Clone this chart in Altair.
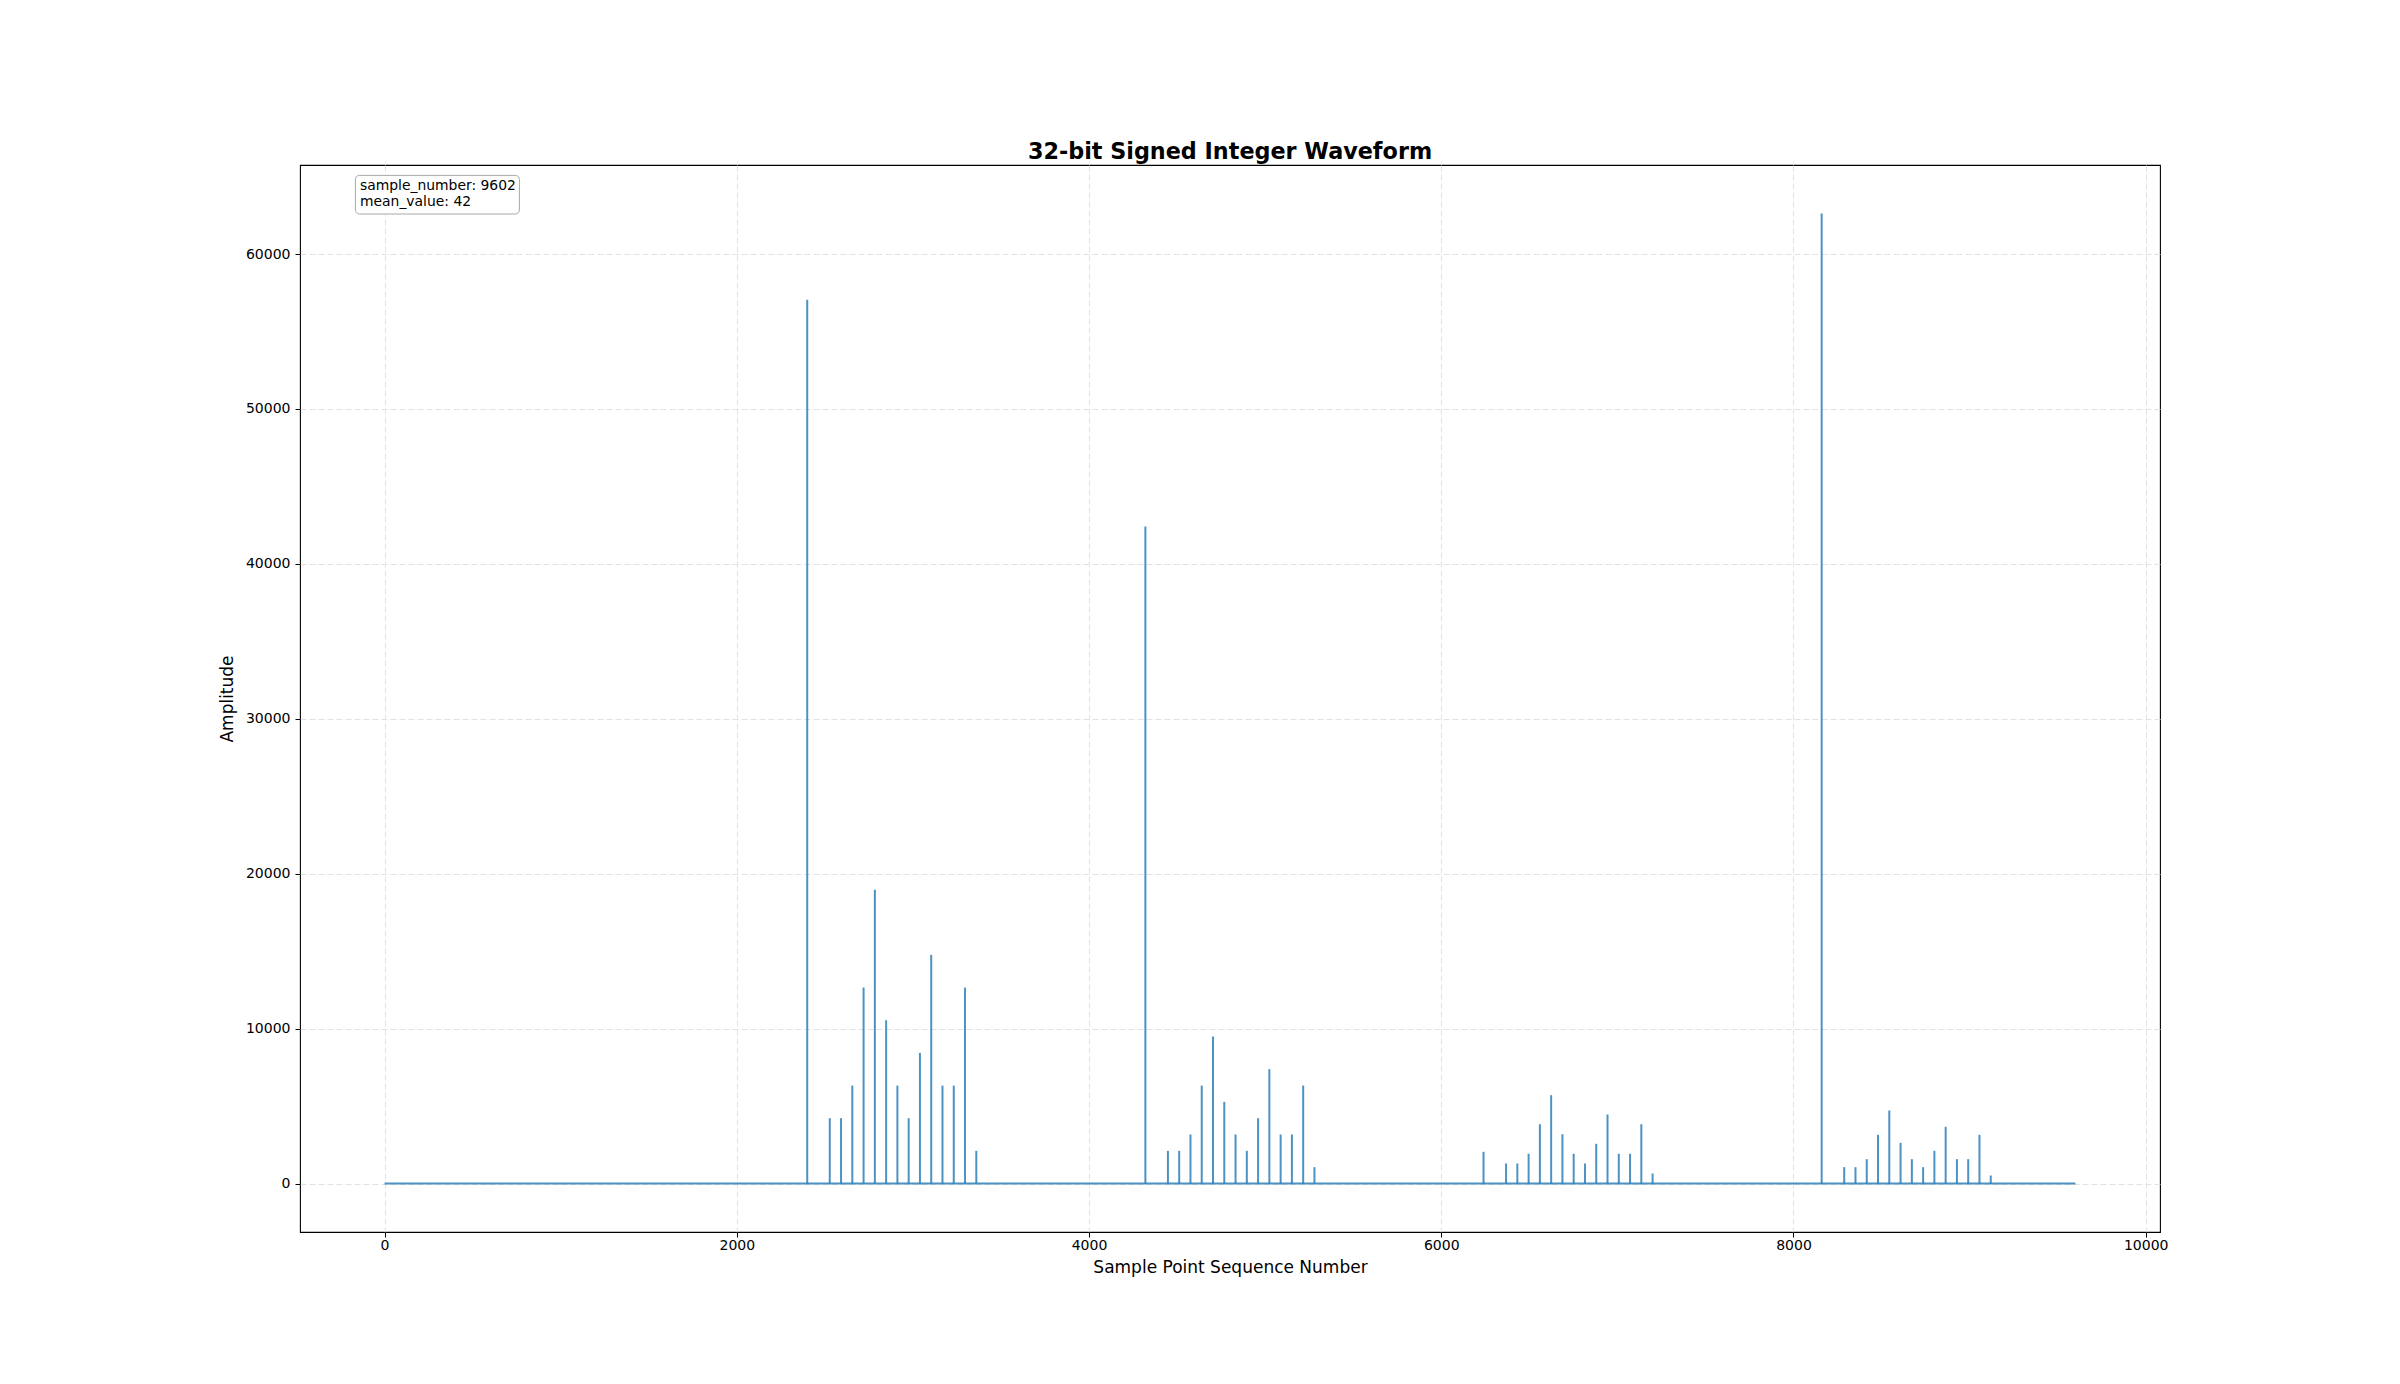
import altair as alt
import pandas as pd

# ---- data ----
SAMPLE_COUNT = 9602
MEAN_VALUE = 42
LINE_START = 0
LINE_END = 9601

spike_x_1 = [2400, 2528, 2592, 2656, 2720, 2784, 2848, 2912, 2976, 3040, 3104, 3168, 3232, 3296, 3360]
spike_y_1 = [57050, 4216, 4216, 6320, 12650, 18970, 10540, 6320, 4216, 8430, 14760, 6320, 6320, 12650, 2108]

spike_x_2 = [4320, 4448, 4512, 4576, 4640, 4704, 4768, 4832, 4896, 4960, 5024, 5088, 5152, 5216, 5280]
spike_y_2 = [42420, 2108, 2108, 3162, 6320, 9490, 5270, 3162, 2108, 4216, 7380, 3162, 3162, 6320, 1054]

spike_x_3 = [6240, 6368, 6432, 6496, 6560, 6624, 6688, 6752, 6816, 6880, 6944, 7008, 7072, 7136, 7200]
spike_y_3 = [2047, 1292, 1292, 1918, 3830, 5703, 3184, 1918, 1292, 2564, 4457, 1918, 1918, 3830, 646]

spike_x_4 = [8160, 8288, 8352, 8416, 8480, 8544, 8608, 8672, 8736, 8800, 8864, 8928, 8992, 9056, 9120]
spike_y_4 = [62620, 1054, 1054, 1571, 3142, 4713, 2625, 1571, 1054, 2110, 3660, 1571, 1571, 3142, 516]

x_ticks = [0, 2000, 4000, 6000, 8000, 10000]
y_ticks = [0, 10000, 20000, 30000, 40000, 50000, 60000]

X_DOMAIN = [-480.05, 10081.05]
Y_DOMAIN = [-3131, 65751]

# ---- tables ----
spikes = pd.DataFrame({
    "x": spike_x_1 + spike_x_2 + spike_x_3 + spike_x_4,
    "y": spike_y_1 + spike_y_2 + spike_y_3 + spike_y_4,
})
spikes["y0"] = 0
baseline = pd.DataFrame({"x": [LINE_START], "x2": [LINE_END], "y": [0]})
info = pd.DataFrame({"t": [0]})

LINE_COLOR = "#1f77b4"
FONT = "DejaVu Sans"

xscale = alt.Scale(domain=X_DOMAIN, nice=False, zero=False)
yscale = alt.Scale(domain=Y_DOMAIN, nice=False, zero=False)

xaxis = alt.Axis(values=x_ticks, format="d", title="Sample Point Sequence Number",
                 grid=True, gridDash=[6, 3], gridColor="#e2e2e2", gridWidth=1,
                 domain=False, tickColor="black", tickSize=5, tickWidth=1,
                 labelPadding=1, labelFontSize=14, labelColor="black", labelFont=FONT,
                 titleFontSize=17, titleFont=FONT, titleFontWeight="normal",
                 titleColor="black", titlePadding=7, labelFlush=False)
yaxis = alt.Axis(values=y_ticks, format="d", title="Amplitude",
                 grid=True, gridDash=[6, 3], gridColor="#e2e2e2", gridWidth=1,
                 domain=False, tickColor="black", tickSize=5, tickWidth=1,
                 labelPadding=5, labelFontSize=14, labelColor="black", labelFont=FONT,
                 titleFontSize=17, titleFont=FONT, titleFontWeight="normal",
                 titleColor="black", titlePadding=9, labelFlush=False)

base_line = alt.Chart(baseline).mark_rule(color=LINE_COLOR, opacity=0.8, strokeWidth=2).encode(
    x=alt.X("x:Q", scale=xscale, axis=xaxis),
    x2="x2:Q",
    y=alt.Y("y:Q", scale=yscale, axis=yaxis),
)

spike_rules = alt.Chart(spikes).mark_rule(color=LINE_COLOR, opacity=0.8, strokeWidth=2).encode(
    x=alt.X("x:Q", scale=xscale),
    y=alt.Y("y0:Q", scale=yscale),
    y2="y:Q",
)

box = alt.Chart(info).mark_rect(fill="white", stroke="#a8a8a8", strokeWidth=1, cornerRadius=4).encode(
    x=alt.value(55.4), x2=alt.value(219.4), y=alt.value(10.4), y2=alt.value(49),
)

label = alt.Chart(info).mark_text(
    align="left", baseline="alphabetic", fontSize=13.9, font=FONT, color="black", lineHeight=16
).encode(
    x=alt.value(60),
    y=alt.value(25.4),
    text=alt.value([f"sample_number: {SAMPLE_COUNT}", f"mean_value: {MEAN_VALUE}"]),
)

chart = alt.layer(base_line, spike_rules, box, label).properties(
    width=1860,
    height=1067,
    title=alt.TitleParams("32-bit Signed Integer Waveform", fontSize=22.3, font=FONT,
                          fontWeight="bold", color="black", anchor="middle",
                          baseline="bottom", offset=-21),
    autosize=alt.AutoSizeParams(type="none"),
    padding={"left": 292, "top": 157, "right": 232, "bottom": 144},
).configure(
    background="white",
    view=alt.ViewConfig(stroke="black", strokeWidth=1.1),
)

chart.save("out.html", embed_options={"renderer": "svg", "actions": False})
